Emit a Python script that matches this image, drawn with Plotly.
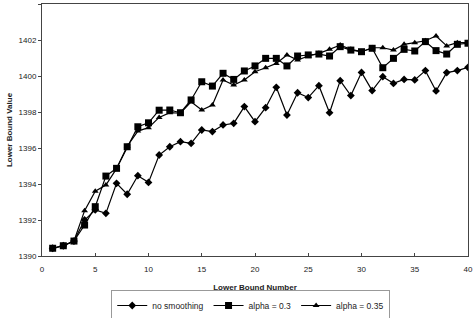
import plotly.graph_objects as go

x = list(range(1, 41))

no_smoothing = [1390.43, 1390.57, 1390.83, 1392.0, 1392.56, 1392.37, 1394.04, 1393.43, 1394.46, 1394.09,
                1395.61, 1396.07, 1396.35, 1396.26, 1397.0, 1396.91, 1397.28, 1397.37, 1398.3, 1397.46,
                1398.24, 1399.37, 1397.83, 1399.07, 1398.8, 1399.46, 1397.96, 1399.74, 1398.91, 1400.2,
                1399.19, 1399.96, 1399.59, 1399.81, 1399.78, 1400.3, 1399.17, 1400.19, 1400.3, 1400.48]

alpha_03 = [1390.43, 1390.57, 1390.83, 1391.72, 1392.74, 1394.44, 1394.87, 1396.07, 1397.18, 1397.4,
            1398.1, 1398.11, 1397.96, 1398.67, 1399.68, 1399.44, 1400.15, 1399.81, 1400.28, 1400.56,
            1400.98, 1400.98, 1400.56, 1401.11, 1401.17, 1401.22, 1401.11, 1401.63, 1401.44, 1401.35,
            1401.54, 1400.46, 1400.98, 1401.48, 1401.39, 1401.91, 1401.41, 1401.22, 1401.76, 1401.82]

alpha_035 = [1390.43, 1390.57, 1390.83, 1392.52, 1393.6, 1393.94, 1394.85, 1396.1, 1396.94, 1397.13,
             1397.7, 1397.96, 1397.93, 1398.57, 1398.11, 1398.39, 1399.78, 1399.5, 1399.78, 1400.24,
             1400.46, 1400.7, 1401.17, 1400.89, 1401.11, 1401.26, 1401.48, 1401.72, 1401.48, 1401.35,
             1401.57, 1401.57, 1401.44, 1401.76, 1401.85, 1401.96, 1402.22, 1401.67, 1401.85, 1401.85]

series = [
    ("no smoothing", no_smoothing, "diamond", 6),
    ("alpha = 0.3", alpha_03, "square", 7),
    ("alpha = 0.35", alpha_035, "triangle-up", 6),
]

fig = go.Figure()
for name, ys, sym, sz in series:
    fig.add_trace(go.Scatter(
        x=x, y=ys, name=name, mode="lines+markers",
        line=dict(color="black", width=1.2),
        marker=dict(symbol=sym, size=sz, color="black"),
    ))

font = dict(family="Liberation Sans, Arial, sans-serif", size=8, color="#222")

fig.update_layout(
    width=474, height=318,
    margin=dict(l=42, r=6, t=4, b=62, autoexpand=False),
    paper_bgcolor="white", plot_bgcolor="white",
    font=font,
    showlegend=True,
    legend=dict(orientation="h", x=0.49, xanchor="center", y=-0.135, yanchor="top",
                bordercolor="#999", borderwidth=1,
                font=dict(size=8.5, family="Liberation Sans, Arial, sans-serif"),
                itemwidth=30, tracegroupgap=0),
)
fig.update_xaxes(
    range=[0, 40], dtick=5, tick0=0, showgrid=False, zeroline=False,
    showline=True, linecolor="#444", linewidth=1, mirror=True,
    ticks="inside", ticklen=3, tickcolor="#444", ticklabelstandoff=5,
    title=dict(text="<b>Lower Bound Number</b>", standoff=11, font=dict(size=8)),
)
fig.update_yaxes(
    range=[1390, 1404], dtick=2, showgrid=False, zeroline=False,
    showline=True, linecolor="#444", linewidth=1, mirror=True,
    ticks="outside", ticklen=3, tickcolor="#444",
    title=dict(text="<b>Lower Bound Value</b>", standoff=4, font=dict(size=8)),
)

fig.write_html("out.html")
